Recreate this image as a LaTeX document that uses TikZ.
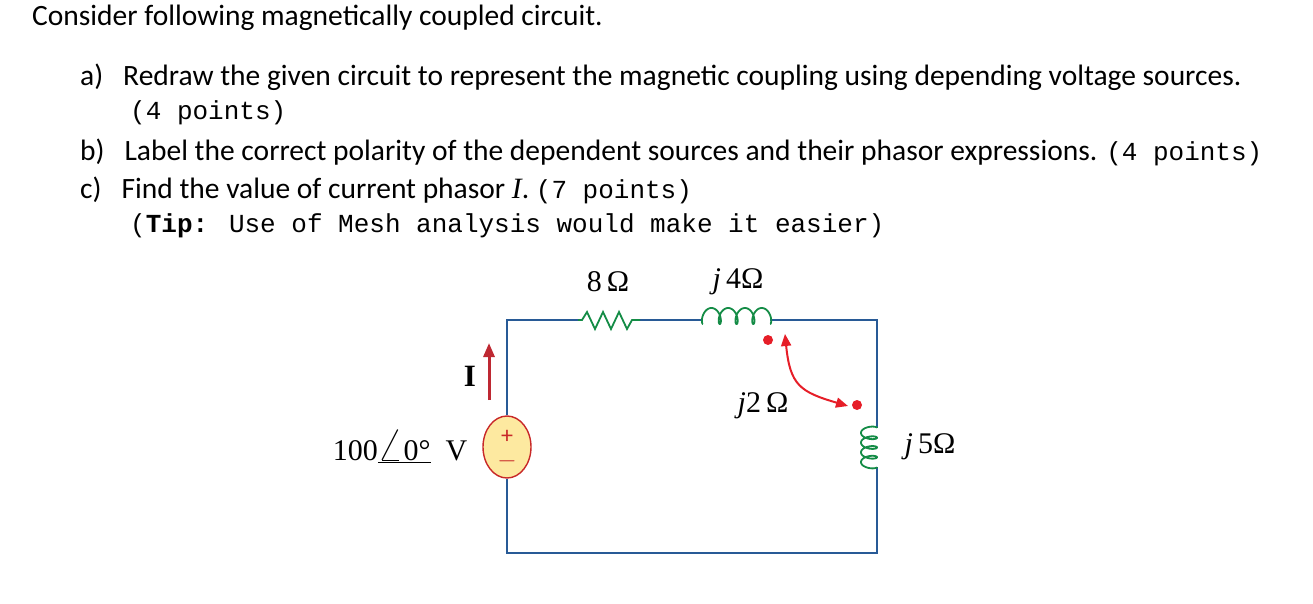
\documentclass[tikz,border=0pt]{standalone}
\usepackage{fontspec}
\setmainfont{Carlito}
\newfontfamily\monof{Liberation Mono}
\newfontfamily\serf{Liberation Serif}
\usetikzlibrary{arrows.meta,shapes.geometric}
\definecolor{wire}{RGB}{40,90,150}
\definecolor{elem}{RGB}{20,140,70}
\definecolor{redc}{RGB}{230,30,40}
\definecolor{srcfill}{RGB}{253,233,160}
\definecolor{srcedge}{RGB}{200,40,40}
\newcommand\mtx{\monof\fontsize{26}{30}\selectfont}
\begin{document}
\begin{tikzpicture}[x=1pt,y=-1pt,
  txt/.style={anchor=west,inner sep=0pt,font=\fontsize{29.5}{34}\selectfont},
  lab/.style={inner sep=0pt,font=\serf\fontsize{30}{34}\selectfont},
  w/.style={draw=wire,line width=2pt},
  el/.style={draw=elem,line width=1.8pt}]
\useasboundingbox (0,0) rectangle (1313,604);
\node[txt] (t0) at (32,18) {Consider following magnetically coupled circuit.};
\node[txt] (a) at (80,77) {a)\hspace{20pt}Redraw the given circuit to represent the magnetic coupling using depending voltage sources.};
\node[txt] (a2) at (130,113) {{\mtx (4 points)}};
\node[txt] (b) at (80,152) {b)\hspace{20pt}Label the correct polarity of the dependent sources and their phasor expressions. {\mtx (4 points)}};
\node[txt] (c) at (80,190) {c)\hspace{20pt}Find the value of current phasor {\serf\itshape I}. {\mtx (7 points)}};
\node[txt] (c2) at (130,226) {{\mtx (\textbf{Tip:} Use of Mesh analysis would make it easier)}};
% wires
\coordinate (tl) at (507,320); \coordinate (tr) at (877,320);
\coordinate (bl) at (507,553); \coordinate (br) at (877,553);
\node[draw=srcedge,fill=srcfill,line width=1.4pt,ellipse,minimum width=48pt,minimum height=62pt,inner sep=0pt] (src) at (507,447) {};
\node[text=srcedge,font=\fontsize{24}{24}\selectfont,inner sep=0pt] (plus) at (507,437) {+};
\node[text=srcedge,font=\fontsize{24}{24}\selectfont,inner sep=0pt] (minus) at (507,461) {$-$};
\draw[w] (src.north) -- (tl) -- (578,320);
\draw[w] (640,320) -- (703,320);
\draw[w] (770,320) -- (tr) -- (877,428);
\draw[w] (877,467) -- (br) -- (bl) -- (src.south);
% resistor
\draw[el] (578,320) -- (582,320) -- (587,312) -- (595,329) -- (603,312) -- (611,329) -- (619,312) -- (627,329) -- (632,320) -- (640,320);
% inductor top
\draw[el] plot[domain=0:8*pi,samples=240,smooth] ({703+2.67*\x - 4.5*sin(\x r)}, {316+8*cos(\x r)});
% inductor right
\draw[el] plot[domain=0:8*pi,samples=240,smooth] ({869+8*cos(\x r)}, {428+1.55*\x - 3.5*sin(\x r)});
% dots and coupling
\fill[redc] (768,340) circle (5pt) coordinate (d1);
\fill[redc] (857,405) circle (5pt) coordinate (d2);
\coordinate (ca) at (785,334); \coordinate (cb) at (848,406);
\draw[redc,line width=2pt,{Triangle[length=12pt,width=10pt]}-{Triangle[length=12pt,width=10pt]}] (ca) .. controls (790,385) and (800,392) .. (cb);
% current arrow
\draw[draw={rgb,255:red,190;green,40;blue,50},line width=3pt,-{Triangle[length=14pt,width=11pt]}] (489,400) -- (489,343);
\node[lab,font=\serf\bfseries\fontsize{31}{34}\selectfont] (I) at (470,376) {I};
% labels
\node[lab] (l8) at (608,282) {8\,Ω};
\node[lab] (l4) at (738,282) {\textit{j\,}4Ω};
\node[lab] (l2) at (763,406) {\textit{j}2\,Ω};
\node[lab] (l5) at (930,447) {\textit{j\,}5Ω};
\node[lab] (lv) at (400,447) {100\underline{\raisebox{0pt}{\scalebox{1.6}{$\angle$}}0°}\ \ V};
\end{tikzpicture}
\end{document}
